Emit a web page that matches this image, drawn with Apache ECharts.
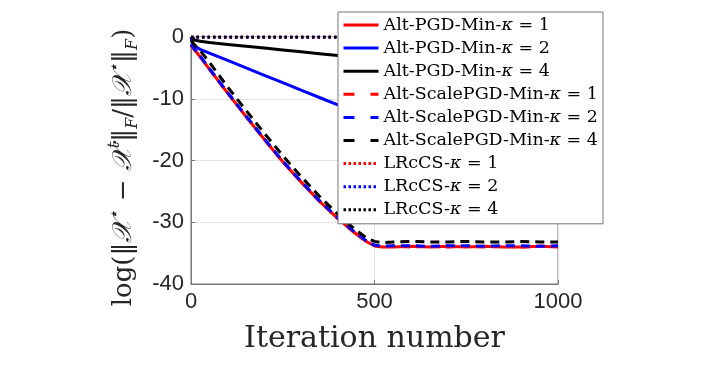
<!DOCTYPE html>
<html><head><meta charset="utf-8">
<script src="https://cdn.jsdelivr.net/npm/echarts@6/dist/echarts.min.js"></script>
<style>html,body{margin:0;padding:0;background:#fff}#c{width:714px;height:386px}</style>
</head><body><div id="c"></div>
<script>
const iters = [0, 5, 10, 25, 50, 100, 150, 200, 250, 300, 350, 400, 450, 480, 500, 520, 550, 600, 650, 700, 750, 800, 850, 900, 950, 1000];
const pgd1 =  [-1.3, -1.7, -2.1, -3.2, -5.2, -9.1, -12.9, -16.6, -20.2, -23.5, -26.6, -29.4, -31.9, -33.2, -33.8, -34.0, -34.0, -33.9, -34.0, -33.9, -34.0, -33.9, -34.0, -34.0, -33.9, -34.0];
const pgd2 =  [0, -1.1, -1.5, -2.0, -2.6, -3.8, -5.0, -6.2, -7.4, -8.6, -9.8, -11.0, -12.1, -12.8, -13.2, -13.7, -14.4, -15.5, -16.7, -17.8, -19.0, -20.1, -21.3, -22.4, -23.6, -24.7];
const pgd4 =  [0, -0.3, -0.5, -0.7, -0.9, -1.2, -1.5, -1.8, -2.1, -2.4, -2.7, -3.0, -3.3, -3.5, -3.6, -3.7, -3.9, -4.2, -4.5, -4.8, -5.1, -5.4, -5.7, -6.0, -6.3, -6.6];
const sc1 =   [-1.3, -1.7, -2.1, -3.2, -5.2, -9.1, -12.9, -16.6, -20.2, -23.5, -26.6, -29.4, -31.9, -33.2, -33.8, -34.0, -33.9, -34.0, -33.9, -34.0, -33.9, -34.0, -33.9, -34.0, -33.9, -33.9];
const sc2 =   [-1.2, -1.6, -2.0, -3.1, -5.1, -9.0, -12.8, -16.5, -20.1, -23.4, -26.5, -29.3, -31.8, -33.1, -33.7, -33.9, -33.8, -33.8, -33.9, -33.8, -33.8, -33.9, -33.8, -33.8, -33.9, -33.8];
const sc4 =   [-0.5, -0.9, -1.3, -2.2, -4.1, -8.1, -11.9, -15.6, -19.2, -22.6, -25.8, -28.7, -31.3, -32.6, -33.1, -33.3, -33.2, -33.1, -33.2, -33.2, -33.1, -33.2, -33.2, -33.1, -33.2, -33.2];
const lr1 =   [0, 0, 0, 0, 0, 0, 0, 0, 0, 0, 0, 0, 0, 0, 0, 0, 0, 0, 0, 0, 0, 0, 0, 0, 0, 0];
const lr2 =   [0, 0, 0, 0, 0, 0, 0, 0, 0, 0, 0, 0, 0, 0, 0, 0, 0, 0, 0, 0, 0, 0, 0, 0, 0, 0];
const lr4 =   [0, 0, 0, 0, 0, 0, 0, 0, 0, 0, 0, 0, 0, 0, 0, 0, 0, 0, 0, 0, 0, 0, 0, 0, 0, 0];
const names = ['Alt-PGD-Min-κ = 1','Alt-PGD-Min-κ = 2','Alt-PGD-Min-κ = 4',
  'Alt-ScalePGD-Min-κ = 1','Alt-ScalePGD-Min-κ = 2','Alt-ScalePGD-Min-κ = 4',
  'LRcCS-κ = 1','LRcCS-κ = 2','LRcCS-κ = 4'];
const xTicks = [0, 500, 1000];
const yTicks = [-40, -30, -20, -10, 0];

const dataSets = [pgd1,pgd2,pgd4,sc1,sc2,sc4,lr1,lr2,lr4];
const colors = ['#ff0000','#0000ff','#000000'];
const types = ['solid',[9,6],[2.5,3]];
const legendTypes = ['solid',[11,16],[2.5,2.5]];
const series = dataSets.map((d,i)=>({
  name: names[i], type:'line', symbol:'none', smooth:false,
  data: iters.map((x,j)=>[x,d[j]]),
  lineStyle:{color:colors[i%3], width:3, type:types[Math.floor(i/3)]},
  itemStyle:{color:colors[i%3]},
  z: 2+i
}));
const serif = 'DejaVu Serif';
const chart = echarts.init(document.getElementById('c'));
chart.setOption({
  animation:false,
  grid:{left:191,right:156,top:37,bottom:102,show:true,borderColor:'#777',borderWidth:1,backgroundColor:'transparent'},
  xAxis:{type:'value',min:0,max:1000,interval:500,
    name:'Iteration number',nameLocation:'middle',nameGap:40,
    nameTextStyle:{fontFamily:serif,fontSize:30,color:'#262626'},
    axisLine:{show:true,onZero:false,lineStyle:{color:'#777'}},
    axisTick:{show:true,inside:true,length:4,lineStyle:{color:'#777'}},
    axisLabel:{fontFamily:'Liberation Sans',fontSize:22,color:'#262626',margin:7,
      formatter:v=>xTicks.includes(v)?String(v):''},
    splitLine:{show:true,lineStyle:{color:'#e2e2e2',width:1}}},
  yAxis:{type:'value',min:-40,max:0,interval:10,
    name:'{t|log(‖}{x|𝒳}{s|⋆}{t| − }{x|𝒳}{s|t}{t|‖}{b|F}{t|/‖}{x|𝒳}{s|⋆}{t|‖}{b|F}{t|)}',
    nameLocation:'middle',nameGap:48,nameRotate:90,
    nameTextStyle:{color:'#262626',padding:[0,14,0,0],rich:{
      t:{fontFamily:serif,fontSize:26,lineHeight:34,verticalAlign:'middle'},
      x:{fontFamily:serif,fontSize:27,fontStyle:'italic',lineHeight:34,verticalAlign:'middle'},
      s:{fontFamily:serif,fontSize:16,fontStyle:'italic',lineHeight:16,verticalAlign:'top'},
      b:{fontFamily:serif,fontSize:16,fontStyle:'italic',lineHeight:16,verticalAlign:'bottom'}}},
    axisLine:{show:true,lineStyle:{color:'#777'}},
    axisTick:{show:true,inside:true,length:4,lineStyle:{color:'#777'}},
    axisLabel:{fontFamily:'Liberation Sans',fontSize:22,color:'#262626',margin:7,
      formatter:v=>yTicks.includes(v)?String(v):''},
    splitLine:{show:true,lineStyle:{color:'#e2e2e2',width:1}}},
  legend:{orient:'vertical',left:338,top:12,z:50,zlevel:0,
    data:names.map((n,i)=>({name:n,lineStyle:{width:3,type:legendTypes[Math.floor(i/3)]}})),
    backgroundColor:'#fff',borderColor:'#777',borderWidth:1,borderRadius:0,
    padding:[4,5,5,4],itemWidth:35,itemHeight:16,itemGap:5.1,
    itemStyle:{opacity:0},
    textStyle:{fontFamily:serif,fontSize:17.5,lineHeight:16,color:'#000',
      rich:{k:{fontFamily:serif,fontSize:17.5,fontStyle:'italic',lineHeight:16}}},
    formatter:n=>n.replace('κ','{k|κ}')},
  series: series
});
</script></body></html>
